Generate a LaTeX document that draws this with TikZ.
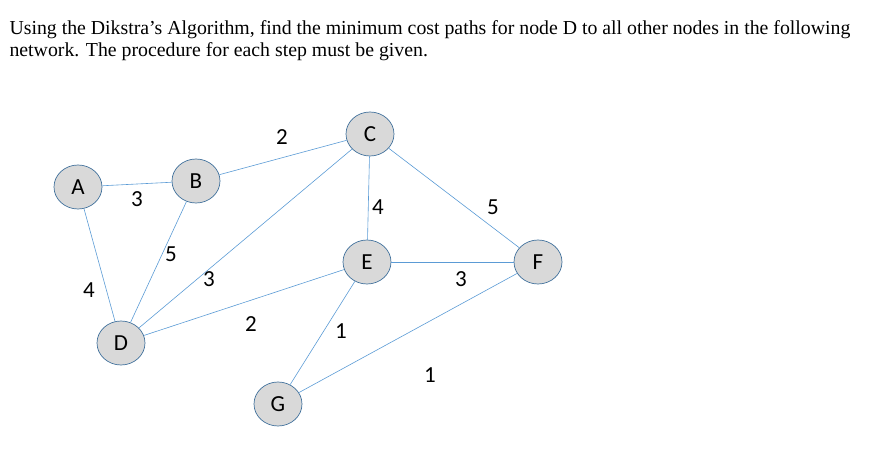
\documentclass[tikz,border=0pt]{standalone}
\usepackage{fontspec}
\usetikzlibrary{shapes.geometric}
\setmainfont{Liberation Serif}
\newfontfamily\lab{Carlito}
\begin{document}
\begin{tikzpicture}[x=1pt,y=-1pt,
 nd/.style={ellipse,draw=nodeb,fill=nodef,line width=0.7pt,minimum width=48pt,minimum height=44pt,inner sep=0pt,font=\lab\fontsize{23}{23}\selectfont},
 ed/.style={draw=edgec,line width=0.6pt},
 wt/.style={font=\lab\fontsize{23}{23}\selectfont}]
\definecolor{nodeb}{HTML}{41719C}\definecolor{nodef}{HTML}{D9D9D9}\definecolor{edgec}{HTML}{5B9BD5}
\useasboundingbox (0,0) rectangle (885,449);
\node[anchor=west,font=\fontsize{19.8}{22}\selectfont] (t1) at (6,30) {Using the Dikstra's Algorithm, find the minimum cost paths for node D to all other nodes in the following};
\node[anchor=west,font=\fontsize{19.8}{22}\selectfont] (t2) at (6,52) {network. The procedure for each step must be given.};
\node[nd] (A) at (78,187) {A};
\node[nd] (B) at (196,181) {B};
\node[nd] (C) at (370,134) {C};
\node[nd] (D) at (121,343) {D};
\node[nd] (E) at (367,262) {E};
\node[nd] (F) at (538,262) {F};
\node[nd] (G) at (278,404) {G};
\draw[ed] (A)--(B); \draw[ed] (A)--(D); \draw[ed] (B)--(D); \draw[ed] (B)--(C);
\draw[ed] (C)--(D); \draw[ed] (C)--(E); \draw[ed] (C)--(F); \draw[ed] (D)--(E);
\draw[ed] (E)--(F); \draw[ed] (E)--(G); \draw[ed] (G)--(F);
\node[wt] (w1) at (282,137) {2};
\node[wt] (w2) at (137,199) {3};
\node[wt] (w3) at (378,207) {4};
\node[wt] (w4) at (493,207) {5};
\node[wt] (w5) at (171,254) {5};
\node[wt] (w6) at (209,279) {3};
\node[wt] (w7) at (89,290) {4};
\node[wt] (w8) at (461,279) {3};
\node[wt] (w9) at (251,324) {2};
\node[wt] (w10) at (341,331) {1};
\node[wt] (w11) at (430,375) {1};
\end{tikzpicture}
\end{document}
